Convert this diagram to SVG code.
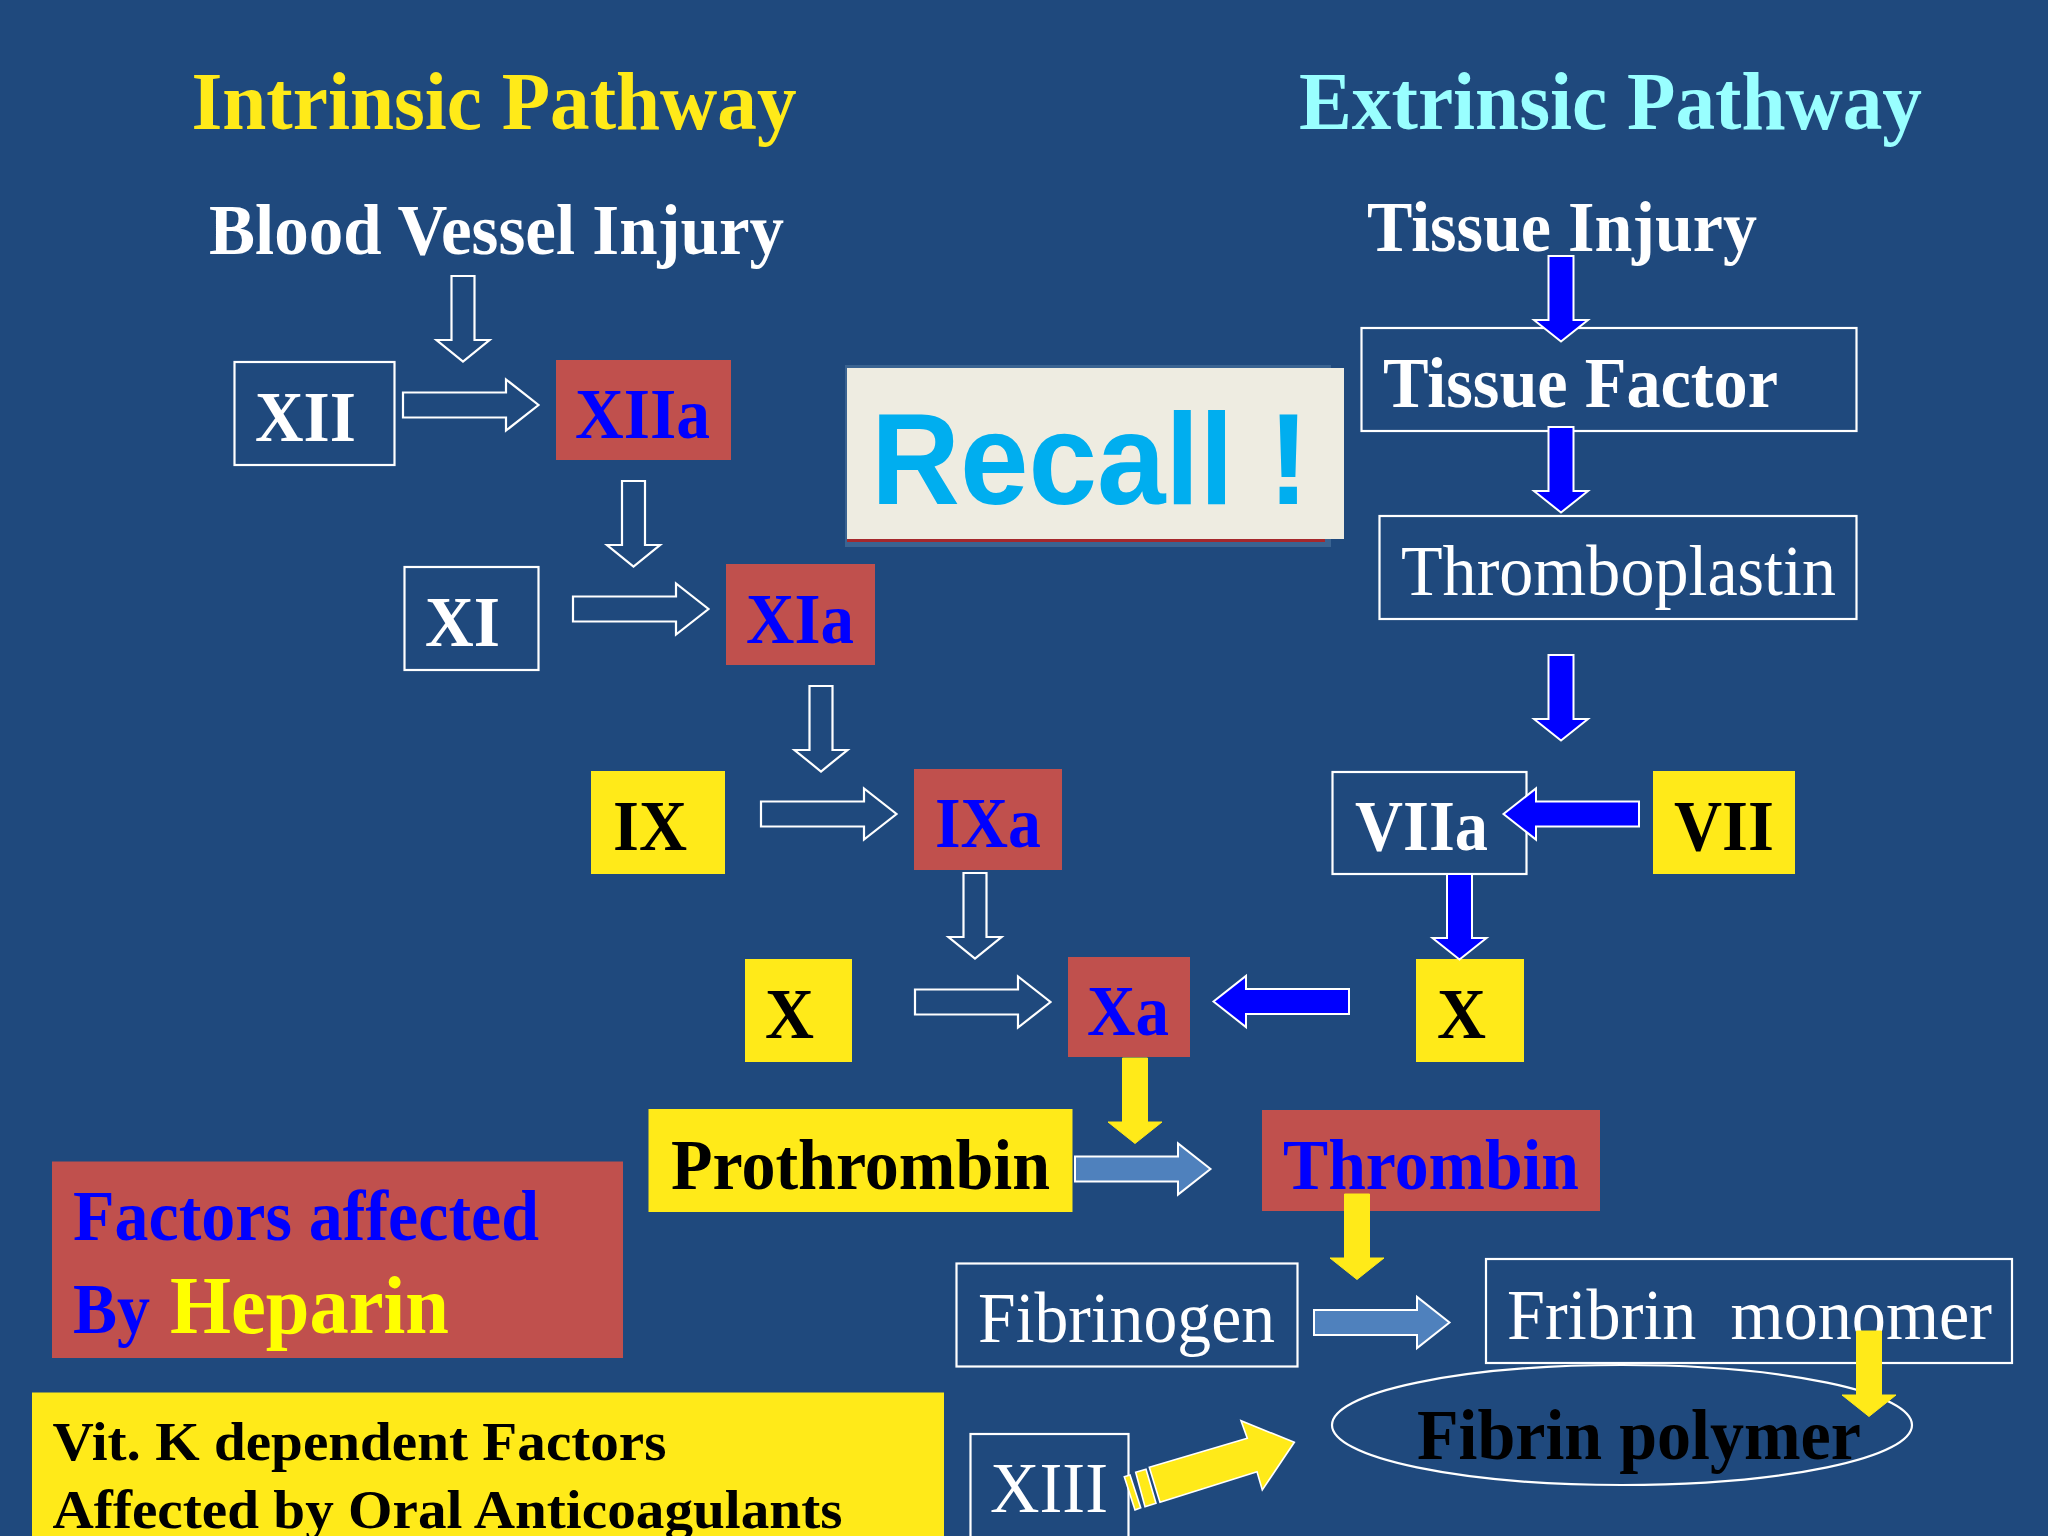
<svg xmlns="http://www.w3.org/2000/svg" width="2048" height="1536" viewBox="0 0 2048 1536">
<style>
text{font-family:"Liberation Serif","Times New Roman",serif;font-weight:700;font-size:72px;white-space:pre}
.reg{font-weight:400}
.w{fill:#fff}.k{fill:#000}.b{fill:#0000ff}
.ob{fill:none;stroke:#fff;stroke-width:2.2}
.red{fill:#c0504d}
.yel{fill:#ffea19}
.hollow{fill:#1f497d;stroke:#fff;stroke-width:2.2}
.blue{fill:#0000ff;stroke:#fff;stroke-width:2}
.yarrow{fill:#ffea19;stroke:#ffea19;stroke-width:1}
.steel{fill:#4f81bd;stroke:#fff;stroke-width:2}
.yw{fill:#ffea19;stroke:#fff;stroke-width:1.6}
</style>
<defs>
<polygon id="down" points="-12.5,0 12.5,0 12.5,64 27,64 0,85.5 -27,64 -12.5,64"/>
<polygon id="down-h" points="-11.5,0 11.5,0 11.5,64 26.5,64 0,85.5 -26.5,64 -11.5,64"/>
<polygon id="right" points="0,-12.5 103,-12.5 103,-25.6 135.5,0 103,25.6 103,12.5 0,12.5"/>
</defs>
<rect width="2048" height="1536" fill="#1f497d"/>
<g id="title-intrinsic"><text x="191.5" y="128.5" style="font-size:82px;fill:#ffea19" textLength="605" lengthAdjust="spacingAndGlyphs">Intrinsic Pathway</text></g>
<g id="title-extrinsic"><text x="1299" y="128.5" style="font-size:82px;fill:#99ffff" textLength="623" lengthAdjust="spacingAndGlyphs">Extrinsic Pathway</text></g>
<g id="blood-vessel-injury"><text class="w" x="209" y="254" textLength="575" lengthAdjust="spacingAndGlyphs">Blood Vessel Injury</text></g>
<g id="tissue-injury"><text class="w" x="1367" y="251" textLength="390" lengthAdjust="spacingAndGlyphs">Tissue Injury</text></g>
<g id="xii"><rect class="ob" x="234.5" y="362" width="160" height="103"/><text class="w" x="255" y="441" textLength="101" lengthAdjust="spacingAndGlyphs">XII</text></g>
<g id="xiia"><rect class="red" x="556" y="360" width="175" height="100"/><text class="b" x="575" y="438" textLength="135" lengthAdjust="spacingAndGlyphs">XIIa</text></g>
<g id="xi"><rect class="ob" x="404.5" y="567" width="134" height="103"/><text class="w" x="425" y="646" textLength="75" lengthAdjust="spacingAndGlyphs">XI</text></g>
<g id="xia"><rect class="red" x="726" y="564" width="149" height="101"/><text class="b" x="746" y="643" textLength="108" lengthAdjust="spacingAndGlyphs">XIa</text></g>
<g id="ix"><rect class="yel" x="591" y="771" width="134" height="103"/><text class="k" x="613" y="850" textLength="74" lengthAdjust="spacingAndGlyphs">IX</text></g>
<g id="ixa"><rect class="red" x="914" y="769" width="148" height="101"/><text class="b" x="935" y="847" textLength="106" lengthAdjust="spacingAndGlyphs">IXa</text></g>
<g id="x-left"><rect class="yel" x="745" y="959" width="107" height="103"/><text class="k" x="765" y="1038" textLength="49" lengthAdjust="spacingAndGlyphs">X</text></g>
<g id="xa"><rect class="red" x="1068" y="957" width="122" height="100"/><text class="b" x="1087" y="1035" textLength="82" lengthAdjust="spacingAndGlyphs">Xa</text></g>
<g id="viia"><rect class="ob" x="1332.5" y="772" width="194" height="102"/><text class="w" x="1355" y="850" textLength="133" lengthAdjust="spacingAndGlyphs">VIIa</text></g>
<g id="vii"><rect class="yel" x="1653" y="771" width="142" height="103"/><text class="k" x="1674" y="850" textLength="100" lengthAdjust="spacingAndGlyphs">VII</text></g>
<g id="x-right"><rect class="yel" x="1416" y="959" width="108" height="103"/><text class="k" x="1437" y="1038" textLength="49" lengthAdjust="spacingAndGlyphs">X</text></g>
<g id="tissue-factor"><rect class="ob" x="1361.5" y="328" width="495" height="103"/><text class="w" x="1383" y="407" textLength="395" lengthAdjust="spacingAndGlyphs">Tissue Factor</text></g>
<g id="thromboplastin"><rect class="ob" x="1379.5" y="516" width="477" height="103"/><text class="w reg" x="1401" y="595" textLength="435" lengthAdjust="spacingAndGlyphs">Thromboplastin</text></g>
<g id="recall">
<rect x="845" y="365" width="486" height="182" fill="#3a6391"/>
<rect x="847" y="539" width="478" height="3" fill="#a5282c"/>
<rect x="847" y="368" width="497" height="171" fill="#eeece1"/>
<text x="871" y="504" style="font-family:'Liberation Sans',Arial,sans-serif;font-size:130px;fill:#00aeef" textLength="438" lengthAdjust="spacingAndGlyphs">Recall !</text>
</g>
<g id="prothrombin"><rect class="yel" x="648.5" y="1109" width="424" height="103"/><text class="k" x="671" y="1189" textLength="379" lengthAdjust="spacingAndGlyphs">Prothrombin</text></g>
<g id="thrombin"><rect class="red" x="1262" y="1110" width="338" height="101"/><text class="b" x="1283" y="1189" textLength="296" lengthAdjust="spacingAndGlyphs">Thrombin</text></g>
<g id="factors-heparin"><rect class="red" x="52" y="1161.5" width="571" height="196.5"/>
<text class="b" x="73" y="1240" textLength="466" lengthAdjust="spacingAndGlyphs">Factors affected</text>
<text class="b" x="73" y="1333" textLength="77" lengthAdjust="spacingAndGlyphs">By</text>
<text x="170" y="1333" style="font-size:82px;fill:#ffff00" textLength="279" lengthAdjust="spacingAndGlyphs">Heparin</text></g>
<g id="vit-k"><rect class="yel" x="32" y="1392.5" width="912" height="143.5"/>
<text class="k" x="52.5" y="1460" style="font-size:55px" textLength="614" lengthAdjust="spacingAndGlyphs">Vit. K dependent Factors</text>
<text class="k" x="52.5" y="1528" style="font-size:55px" textLength="790" lengthAdjust="spacingAndGlyphs">Affected by Oral Anticoagulants</text></g>
<g id="fibrinogen"><rect class="ob" x="956.5" y="1263.5" width="341" height="103"/><text class="w reg" x="978" y="1342" textLength="297" lengthAdjust="spacingAndGlyphs">Fibrinogen</text></g>
<g id="fibrin-monomer"><rect class="ob" x="1486" y="1259" width="526" height="104"/><text class="w reg" x="1507" y="1339" textLength="485" lengthAdjust="spacingAndGlyphs">Fribrin  monomer</text></g>
<g id="fibrin-polymer"><ellipse class="ob" cx="1622" cy="1425" rx="290" ry="60"/><text class="k" x="1417" y="1459" textLength="444" lengthAdjust="spacingAndGlyphs">Fibrin polymer</text></g>
<g id="xiii"><rect class="ob" x="970.5" y="1434" width="158" height="110"/><text class="w reg" x="990" y="1512" textLength="118" lengthAdjust="spacingAndGlyphs">XIII</text></g>
<g id="connectors">
<use href="#down-h" class="hollow" x="463" y="276"/>
<use href="#down-h" class="hollow" x="633.5" y="481"/>
<use href="#down-h" class="hollow" x="821" y="686"/>
<use href="#down-h" class="hollow" x="975" y="873"/>
<use href="#right" class="hollow" x="403" y="405"/>
<use href="#right" class="hollow" x="573" y="609"/>
<use href="#right" class="hollow" x="761" y="814"/>
<use href="#right" class="hollow" x="915" y="1002"/>
<use href="#down" class="blue" x="1561" y="256"/>
<use href="#down" class="blue" x="1561" y="427"/>
<use href="#down" class="blue" x="1561" y="655"/>
<use href="#down" class="blue" x="1459.5" y="874"/>
<use href="#right" class="blue" transform="translate(1639 814) scale(-1 1)"/>
<use href="#right" class="blue" transform="translate(1349 1001.5) scale(-1 1)"/>
<use href="#down" class="yarrow" x="1135" y="1058"/>
<use href="#down" class="yarrow" x="1357" y="1194"/>
<use href="#down" class="yarrow" x="1869" y="1331"/>
<use href="#right" class="steel" x="1075" y="1169"/>
<use href="#right" class="steel" x="1314" y="1322.5"/>
<polygon class="yw" points="1294.3,1442.3 1241,1420.7 1247.3,1438.3 1149.3,1467.3 1160,1502.3 1257,1471.7 1262.3,1490"/>
<polygon class="yw" points="1135.7,1472.3 1146,1469.3 1156,1503.3 1145,1506.7"/>
<polygon class="yw" points="1124.3,1476.7 1130,1475 1140.7,1507.7 1135,1510"/>
</g>
</svg>
